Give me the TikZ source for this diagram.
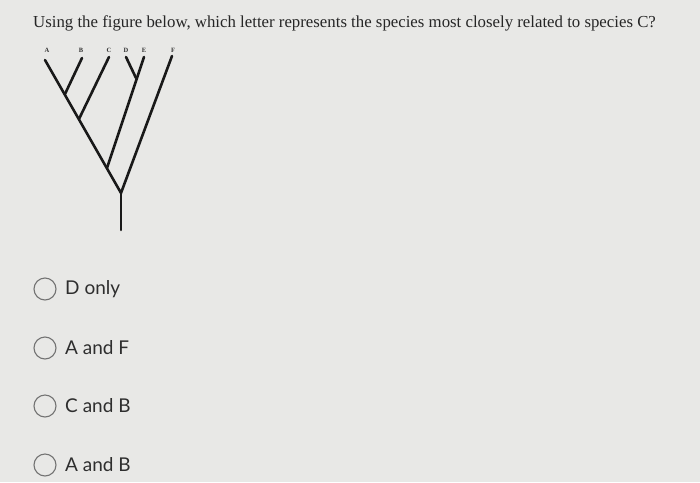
\documentclass[tikz,border=0pt]{standalone}
\usepackage{fontspec}
\setmainfont{Liberation Serif}
\newfontfamily\optfont{Lato}
\begin{document}
\begin{tikzpicture}[x=1pt,y=-1pt,
  branch/.style={line width=2.6pt,line cap=round,black!90},
  leaf/.style={font=\fontsize{6.5}{6.5}\selectfont\bfseries,text=black!80,inner sep=0pt},
  radio/.style={circle,draw=black!55,line width=1.1pt,minimum size=22pt,inner sep=0pt},
  opt/.style={font=\optfont\fontsize{19}{19}\selectfont,text=black!82,anchor=west,inner sep=0pt}]
\fill[fill={rgb,255:red,232;green,232;blue,230}] (0,0) rectangle (700,482);
\useasboundingbox (0,0) rectangle (700,482);
\node[anchor=base west,inner sep=0pt,font=\fontsize{16.8}{16.8}\selectfont,text=black!85] (q) at (33,27) {Using the figure below, which letter represents the species most closely related to species C?};
% tree points
\coordinate (tA) at (45,60);
\coordinate (tB) at (82,58);
\coordinate (tC) at (109,57);
\coordinate (tD) at (126,57);
\coordinate (tE) at (144,57);
\coordinate (tF) at (172,56);
\coordinate (jAB) at (65,94);
\coordinate (jABC) at (79,119);
\coordinate (jDE) at (136,78);
\coordinate (jX) at (107,168);
\coordinate (root) at (121,193);
\coordinate (base) at (121,230);
\draw[branch] (tA) -- (root) -- (tF);
\draw[branch] (jAB) -- (tB);
\draw[branch] (jABC) -- (tC);
\draw[branch] (jX) -- (tE);
\draw[branch] (jDE) -- (tD);
\draw[branch] (root) -- (base);
\node[leaf] (lA) at (47,50) {A};
\node[leaf] (lB) at (81,50) {B};
\node[leaf] (lC) at (109,50) {C};
\node[leaf] (lD) at (126,50) {D};
\node[leaf] (lE) at (144,50) {E};
\node[leaf] (lF) at (173,50) {F};
% options
\node[radio] (r1) at (45,289) {};
\node[opt] (o1) at (65,289) {D only};
\node[radio] (r2) at (45,348) {};
\node[opt] (o2) at (65,348) {A and F};
\node[radio] (r3) at (45,406) {};
\node[opt] (o3) at (65,406) {C and B};
\node[radio] (r4) at (45,465) {};
\node[opt] (o4) at (65,465) {A and B};
\end{tikzpicture}
\end{document}
